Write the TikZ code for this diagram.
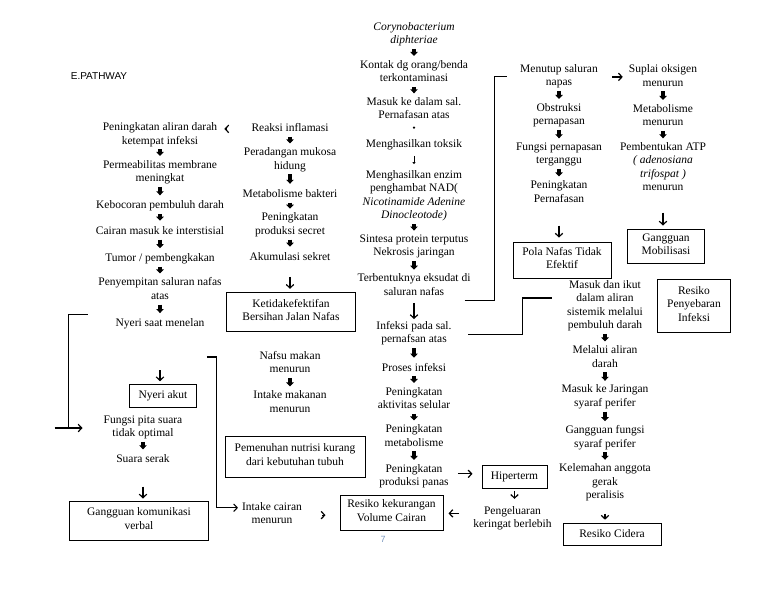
\documentclass[tikz,border=0pt]{standalone}
\usepackage{fontspec}
\setmainfont{Liberation Serif}
\newfontfamily\titlefont{Liberation Sans}
\usetikzlibrary{positioning}
\usetikzlibrary{arrows.meta}
\definecolor{pagenum}{RGB}{120,150,190}
\tikzset{%
  txt/.style = {align=center,inner sep=0pt,font=\fontsize{11.5}{13.5}\selectfont,
        execute at begin node=\strut,execute at end node=\strut},
  box/.style = {txt,draw,line width=1pt,inner xsep=4pt,inner ysep=4.5pt},
  blkarrow/.style = {-{Triangle[width=7.5pt,length=4pt]},line width=3.2pt,
        shorten <=1pt,shorten >=4pt},
  openarrow/.style = {-{Straight Barb[length=3.5pt,width=7.5pt]},line width=1.2pt},
  bracket/.style = {line width=1.1pt},
  dotmark/.style = {circle,fill,inner sep=0pt,minimum size=2.5pt},
  smallarrow/.style = {-{Triangle[width=3pt,length=2pt]},line width=1pt}
}

\begin{document}
\begin{tikzpicture}[x=1pt,y=-1pt]
   \useasboundingbox (0,0) rectangle (768,594);
   \node[font=\titlefont\fontsize{10}{12}\selectfont] (judul) at (99,76) {E.PATHWAY};
   % left column
   \node[txt] (aliran) at (160,135.4) {Peningkatan aliran darah\\ketempat infeksi};
   \node[txt] (permea) [below=11.5pt of aliran] {Permeabilitas membrane\\meningkat};
   \node[txt] (bocor) [below=13.5pt of permea] {Kebocoran pembuluh darah};
   \node[txt] (cairan) [below=11.5pt of bocor] {Cairan masuk ke interstisial};
   \node[txt] (tumor) [below=13.5pt of cairan] {Tumor / pembengkakan};
   \node[txt] (sempit) [below=11.5pt of tumor] {Penyempitan saluran nafas\\atas};
   \node[txt] (menelan) [below=13.5pt of sempit] {Nyeri saat menelan};
   \node[box,minimum width=67pt,minimum height=22pt] (nyeriakut) [below=53.3pt of menelan,xshift=3pt] {Nyeri akut};
   \node[txt] (pita) [below=7.5pt of nyeriakut,xshift=-20pt] {Fungsi pita suara\\tidak optimal};
   \node[txt] (serak) [below=12.5pt of pita] {Suara serak};
   \node[box,minimum width=139pt,minimum height=39pt] (komunikasi) [below=33.3pt of serak,xshift=-4pt] {Gangguan komunikasi\\verbal};
   % second column
   \node[txt] (reaksi) at (290,128.9) {Reaksi inflamasi};
   \node[txt] (radang) [below=11.5pt of reaksi] {Peradangan mukosa\\hidung};
   \node[txt] (metbakteri) [below=14.5pt of radang] {Metabolisme bakteri};
   \node[txt] (secret) [below=11pt of metbakteri] {Peningkatan\\produksi secret};
   \node[txt] (akumulasi) [below=12pt of secret] {Akumulasi sekret};
   \node[box,minimum width=129pt,minimum height=39pt] (bersihan) [below=27.3pt of akumulasi,xshift=1pt] {Ketidakefektifan\\Bersihan Jalan Nafas};
   \node[txt] (nafsu) [below=19.1pt of bersihan,xshift=-1pt] {Nafsu makan\\menurun};
   \node[txt] (intakemakan) [below=13.5pt of nafsu] {Intake makanan\\menurun};
   \node[box,minimum width=140pt,minimum height=41pt] (nutrisi) [below=19.3pt of intakemakan,xshift=5pt] {Pemenuhan nutrisi kurang\\dari kebutuhan tubuh};
   \node[txt] (intakecair) [below=24.5pt of nutrisi,xshift=-23pt] {Intake cairan\\menurun};
   % centre column
   \node[txt] (cory) at (414,34.9) {\textit{Corynobacterium}\\\textit{diphteriae}};
   \node[txt] (kontak) [below=12pt of cory] {Kontak dg orang/benda\\terkontaminasi};
   \node[txt] (masuksal) [below=11.5pt of kontak] {Masuk ke dalam sal.\\Pernafasan atas};
   \node[txt] (toksik) [below=14.5pt of masuksal] {Menghasilkan toksik};
   \node[txt] (enzim) [below=18.5pt of toksik] {Menghasilkan enzim\\penghambat NAD(\\\textit{Nicotinamide Adenine}\\\textit{Dinocleotode)}};
   \node[txt] (sintesa) [below=11.5pt of enzim] {Sintesa protein terputus\\Nekrosis jaringan};
   \node[txt] (eksudat) [below=13.5pt of sintesa] {Terbentuknya eksudat di\\saluran nafas};
   \node[txt] (infeksi) [below=21.5pt of eksudat] {Infeksi pada sal.\\pernafsan atas};
   \node[txt] (proses) [below=14.5pt of infeksi] {Proses infeksi};
   \node[txt] (selular) [below=11.5pt of proses] {Peningkatan\\aktivitas selular};
   \node[txt] (metabolisme) [below=11.5pt of selular] {Peningkatan\\metabolisme};
   \node[txt] (panas) [below=13.5pt of metabolisme] {Peningkatan\\produksi panas};
   \node[box,minimum width=103pt,minimum height=35pt] (kurang) at (391.5,512.5) {Resiko kekurangan\\Volume Cairan};
   \node[box,minimum width=65pt,minimum height=22pt] (hiper) at (514.5,477) {Hiperterm};
   \node[txt] (keringat) [below=17.1pt of hiper,xshift=-2pt] {Pengeluaran\\keringat berlebih};
   \node[txt,font=\titlefont\fontsize{9}{11}\selectfont,text=pagenum] (halaman) at (383,540) {7};
   % right columns
   \node[txt] (menutup) at (559,76.9) {Menutup saluran\\napas};
   \node[txt] (obstruksi) [below=13pt of menutup] {Obstruksi\\pernapasan};
   \node[txt] (fungsinafas) [below=13.5pt of obstruksi] {Fungsi pernapasan\\terganggu};
   \node[txt] (pernafasan) [below=12.5pt of fungsinafas] {Peningkatan\\Pernafasan};
   \node[box,minimum width=98pt,minimum height=36pt] (pola) [below=35.3pt of pernafasan,xshift=3pt] {Pola Nafas Tidak\\Efektif};
   \node[txt] (suplai) at (663,77.4) {Suplai oksigen\\menurun};
   \node[txt] (metmenurun) [below=13.5pt of suplai] {Metabolisme\\menurun};
   \node[txt] (atp) [below=12.5pt of metmenurun] {Pembentukan ATP\\\textit{( adenosiana}\\\textit{trifospat )}\\menurun};
   \node[box,minimum width=77pt,minimum height=33pt] (mobilisasi) [below=33.3pt of atp,xshift=3pt] {Gangguan\\Mobilisasi};
   \node[txt] (sistemik) at (605,306.4) {Masuk dan ikut\\dalam aliran\\sistemik melalui\\pembuluh darah};
   \node[txt] (melalui) [below=12.5pt of sistemik] {Melalui aliran\\darah};
   \node[txt] (jaringan) [below=13.5pt of melalui] {Masuk ke Jaringan\\syaraf perifer};
   \node[txt] (gangsyaraf) [below=14.5pt of jaringan] {Gangguan fungsi\\syaraf perifer};
   \node[txt] (lemah) [below=12.5pt of gangsyaraf] {Kelemahan anggota\\gerak\\peralisis};
   \node[box,minimum width=98pt,minimum height=21pt] (cidera) [below=19.5pt of lemah,xshift=7pt] {Resiko Cidera};
   \node[box,minimum width=73pt,minimum height=53pt] (penyebaran) at (694,306) {Resiko\\Penyebaran\\Infeksi};
   % filled arrows
   \draw[blkarrow] (aliran) -- (permea);
   \draw[blkarrow] (permea) -- (bocor);
   \draw[blkarrow] (bocor) -- (cairan);
   \draw[blkarrow] (cairan) -- (tumor);
   \draw[blkarrow] (tumor) -- (sempit);
   \draw[blkarrow] (sempit) -- (menelan);
   \draw[blkarrow] (pita) -- (serak);
   \draw[blkarrow] (reaksi) -- (radang);
   \draw[blkarrow] (radang) -- (metbakteri);
   \draw[blkarrow] (metbakteri) -- (secret);
   \draw[blkarrow] (secret) -- (akumulasi);
   \draw[blkarrow] (nafsu) -- (intakemakan);
   \draw[blkarrow] (cory) -- (kontak);
   \draw[blkarrow] (kontak) -- (masuksal);
   \draw[blkarrow] (enzim) -- (sintesa);
   \draw[blkarrow] (sintesa) -- (eksudat);
   \draw[blkarrow] (infeksi) -- (proses);
   \draw[blkarrow] (proses) -- (selular);
   \draw[blkarrow] (selular) -- (metabolisme);
   \draw[blkarrow] (metabolisme) -- (panas);
   \draw[blkarrow] (menutup) -- (obstruksi);
   \draw[blkarrow] (obstruksi) -- (fungsinafas);
   \draw[blkarrow] (fungsinafas) -- (pernafasan);
   \draw[blkarrow] (suplai) -- (metmenurun);
   \draw[blkarrow] (metmenurun) -- (atp);
   \draw[blkarrow] (sistemik) -- (melalui);
   \draw[blkarrow] (melalui) -- (jaringan);
   \draw[blkarrow] (jaringan) -- (gangsyaraf);
   \draw[blkarrow] (gangsyaraf) -- (lemah);
   \path (masuksal.south) -- node[dotmark,pos=0.3] {} (toksik.north);
   \draw[smallarrow,shorten <=4.3pt,shorten >=6pt] (toksik) -- (enzim);
   % open arrows
   \draw[openarrow,shorten <=39.3pt,shorten >=3pt] (menelan.south) -- (menelan.south |- nyeriakut.north);
   \draw[openarrow,shorten <=19.3pt,shorten >=2pt] (serak.south) -- (serak.south |- komunikasi.north);
   \draw[openarrow,shorten <=12.3pt,shorten >=3pt] (akumulasi.south) -- (akumulasi.south |- bersihan.north);
   \draw[openarrow,shorten <=3.3pt,shorten >=2pt] (eksudat) -- (infeksi);
   \draw[openarrow,shorten <=19.3pt,shorten >=4pt] (pernafasan.south) -- (pernafasan.south |- pola.north);
   \draw[openarrow,shorten <=17.3pt,shorten >=3pt] (atp.south) -- (atp.south |- mobilisasi.north);
   \draw[openarrow,shorten <=10.3pt,shorten >=3pt] (lemah.south) -- (lemah.south |- cidera.north);
   \draw[openarrow,shorten <=2pt,shorten >=7pt] (hiper.south) -- (hiper.south |- keringat.north);
   \draw[openarrow,shorten <=24pt,shorten >=7pt] (reaksi.west) -- (reaksi.west -| aliran.east);
   \draw[openarrow,shorten <=20pt,shorten >=14pt] (intakecair.east) -- (intakecair.east -| kurang.west);
   \draw[openarrow,shorten <=9pt,shorten >=9pt] ([yshift=3pt]panas.east) -- ([yshift=3pt]panas.east -| hiper.west);
   \draw[openarrow,shorten <=14pt,shorten >=5pt] ([yshift=5.4pt]keringat.west) -- ([yshift=5.4pt]keringat.west -| kurang.east);
   \draw[openarrow,shorten <=14pt,shorten >=6pt] (menutup.east) -- (menutup.east -| suplai.west);
   % brackets
   \draw[bracket] ([shift={(-27.6pt,9.9pt)}]menelan.west) -- ++(-19pt,0) |- ([xshift=-34pt]pita.west);
   \draw[openarrow] ([xshift=-49pt]pita.west) -- ([xshift=-21pt]pita.west);
   \draw[openarrow,bracket] ([shift={(-52.5pt,6.9pt)}]nafsu.west) -- ++(10pt,0) |- ([shift={(-4pt,7.4pt)}]intakecair.west);
   \draw[bracket] ([shift={(-6pt,-1.4pt)}]eksudat.south east) -- ++(30pt,0) |- ([xshift=-13pt]menutup.west);
   \draw[bracket] ([xshift=16.5pt]infeksi.east) -- ++(54pt,0) |- ([shift={(-15pt,8.4pt)}]sistemik.west);
\end{tikzpicture}
\end{document}
